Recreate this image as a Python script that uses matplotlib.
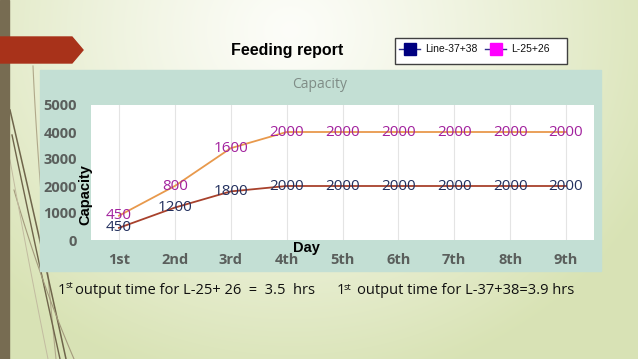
import numpy as np
import matplotlib
matplotlib.use("Agg")
import matplotlib.pyplot as plt
from matplotlib.patches import Rectangle, Polygon

days = ["1st", "2nd", "3rd", "4th", "5th", "6th", "7th", "8th", "9th"]
line_37_38 = [450, 1200, 1800, 2000, 2000, 2000, 2000, 2000, 2000]
line_25_26 = [450, 800, 1600, 2000, 2000, 2000, 2000, 2000, 2000]
y_ticks = [0, 1000, 2000, 3000, 4000, 5000]
series_names = ["Line-37+38", "L-25+26"]

W, H = 638, 359
fig = plt.figure(figsize=(W / 100, H / 100), dpi=100)

def fx(x):
    return x / W

def fy(y):
    return 1 - y / H

# background gradient
bg = fig.add_axes([0, 0, 1, 1])
bg.set_xlim(0, W)
bg.set_ylim(H, 0)
bg.axis("off")
yy, xx = np.mgrid[0:H, 0:W]
d = np.sqrt(((xx - 290) / 400.0) ** 2 + ((yy - 30) / 360.0) ** 2)
d = np.clip(d, 0, 1) ** 1.2
c0 = np.array([0.99, 0.992, 0.975])
c1 = np.array([0.85, 0.89, 0.71])
img = c0[None, None, :] * (1 - d[..., None]) + c1[None, None, :] * d[..., None]
bg.imshow(img, extent=[0, W, H, 0], aspect="auto", zorder=0)

# decorative curves on the left (quadratic bezier)
t = np.linspace(0, 1, 120)
curves = [((33, 66), (38, 180), (56, 359), "#b0a88a", 0.8),
          ((10, 110), (38, 230), (66, 359), "#6f654b", 1.1),
          ((12, 135), (36, 250), (60, 359), "#6f654b", 1.0),
          ((14, 190), (40, 280), (74, 359), "#a39a7c", 0.8),
          ((10, 160), (28, 260), (48, 359), "#c2bba0", 0.7)]
for p0, p1, p2, col, lw in curves:
    xs = (1 - t) ** 2 * p0[0] + 2 * (1 - t) * t * p1[0] + t ** 2 * p2[0]
    ys = (1 - t) ** 2 * p0[1] + 2 * (1 - t) * t * p1[1] + t ** 2 * p2[1]
    bg.plot(xs, ys, color=col, lw=lw, zorder=1)
bg.add_patch(Rectangle((0, 0), 9, H, color="#776c52", zorder=2))
bg.add_patch(Polygon([[0, 37], [72, 37], [83, 50], [72, 63], [0, 63]],
                     closed=True, color="#a8321a", zorder=3))

# teal panel
bg.add_patch(Rectangle((40, 70), 561, 201, color="#c3dfd4", zorder=4))

# title texts
fig.text(fx(287), fy(51), "Feeding report", ha="center", va="center",
         fontsize=11.5, fontweight="bold", family="Liberation Sans", color="black")
fig.text(fx(320), fy(84), "Capacity", ha="center", va="center",
         fontsize=10, family="Open Sans", color="#7f8c86")

# legend box
bg.add_patch(Rectangle((395, 38), 172, 26, facecolor="white",
                       edgecolor="#404040", lw=1.0, zorder=5))
leg_cols = ["#000080", "#ff00ff"]
for i, (name, col) in enumerate(zip(series_names, leg_cols)):
    x0 = 399 + i * 86
    bg.plot([x0, x0 + 21], [49, 49], color="#2e2e8a", lw=1.0, zorder=6)
    bg.plot([x0 + 11], [49], marker="s", ms=8.5, color=col, zorder=7)
    bg.text(x0 + 26, 48.5, name, ha="left", va="center", fontsize=7.5,
            family="Liberation Sans", color="#111111", zorder=7)

# main chart
ax = fig.add_axes([fx(91), fy(240), (594 - 91) / W, (240 - 105) / H])
ax.set_facecolor("white")
x = np.arange(len(days))
bottom = np.array(line_37_38)
top = bottom + np.array(line_25_26)
ax.plot(x, top, color="#e8994c", lw=1.3, zorder=3)
ax.plot(x, bottom, color="#a8412c", lw=1.3, zorder=3)
for xi, yv, v in zip(x, bottom, line_37_38):
    ax.text(xi, yv, str(v), ha="center", va="center", fontsize=11,
            family="Open Sans", color="#23305e", zorder=4)
for xi, yv, v in zip(x, top, line_25_26):
    ax.text(xi, yv, str(v), ha="center", va="center", fontsize=11,
            family="Open Sans", color="#a2229e", zorder=4)
ax.set_xlim(-0.5, len(days) - 0.5)
ax.set_ylim(0, 5000)
ax.set_xticks(x)
ax.set_xticklabels(days)
ax.set_yticks(y_ticks)
ax.grid(axis="x", color="#e4e4e4", lw=0.8)
ax.set_axisbelow(True)
for s in ax.spines.values():
    s.set_visible(False)
ax.tick_params(length=0)
for lab in ax.get_xticklabels() + ax.get_yticklabels():
    lab.set_fontsize(10.5)
    lab.set_fontweight("bold")
    lab.set_color("#5a5f5c")
    lab.set_family("Open Sans")
ax.tick_params(axis="x", pad=9)
ax.tick_params(axis="y", pad=10)

fig.text(fx(85), fy(195), "Capacity", rotation=90, ha="center", va="center",
         fontsize=10.5, fontweight="bold", family="Liberation Sans", color="black")
fig.text(fx(306), fy(248), "Day", ha="center", va="center",
         fontsize=10.5, fontweight="bold", family="Liberation Sans", color="black")

# bottom notes
fs = 10.5
fig.text(fx(58), fy(291), "1", ha="left", va="center", fontsize=fs,
         family="Open Sans", color="#111111")
fig.text(fx(65), fy(285), "st", ha="left", va="center", fontsize=6.5,
         family="Open Sans", color="#111111")
fig.text(fx(75), fy(291), "output time for L-25+ 26  =  3.5  hrs", ha="left",
         va="center", fontsize=fs, family="Open Sans", color="#111111")
fig.text(fx(337), fy(291), "1", ha="left", va="center", fontsize=fs,
         family="Open Sans", color="#111111")
fig.text(fx(344), fy(287), "st", ha="left", va="center", fontsize=6.5,
         family="Open Sans", color="#111111")
fig.text(fx(357), fy(291), "output time for L-37+38=3.9 hrs", ha="left",
         va="center", fontsize=fs, family="Open Sans", color="#111111")

fig.savefig("out.png", dpi=100)
